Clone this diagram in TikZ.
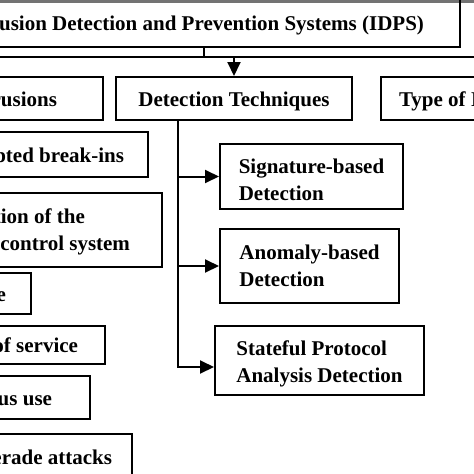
\documentclass[tikz,border=0pt]{standalone}
\usepackage{fontspec}
\setmainfont{Liberation Serif}
\usetikzlibrary{arrows.meta}
\begin{document}
\begin{tikzpicture}[x=1pt,y=-1pt,
  box/.style={draw, line width=2pt, font=\fontsize{21}{27}\selectfont\bfseries, align=left, inner ysep=0pt},
  one/.style={box, text height=17pt, text depth=2pt},
  two/.style={box, text height=#1, text depth=0pt},
  conn/.style={line width=2pt, line cap=rect},
  arr/.style={line width=2pt, -{Triangle[length=14pt,width=13pt]}}]
\useasboundingbox (0,0) rectangle (474,474);
\clip (0,0) rectangle (474,474);
\fill[black!55] (0,0) rectangle (474,3);
% top
\node[one, anchor=east, inner xsep=36pt, minimum height=48pt] (idps) at (461,23) {Intrusion Detection and Prevention Systems (IDPS)};
\node[one, anchor=east, inner xsep=46pt, minimum height=43pt] (ti) at (104,98.5) {Types of Intrusions};
\node[one, minimum width=236pt, minimum height=43pt] (dt) at (234,98.5) {Detection Techniques};
\node[one, anchor=west, inner xsep=18pt, minimum height=43pt] (tp) at (380,98.5) {Type of IDPS};
% right column
\node[two=47pt, minimum width=183pt, minimum height=65pt] (sig) at (311.5,176.5) {Signature-based\\Detection};
\node[two=41.4pt, minimum width=179pt, minimum height=74pt] (ano) at (309.5,266) {Anomaly-based\\Detection};
\node[two=43.6pt, minimum width=209pt, minimum height=69pt] (sp) at (319.5,360.5) {Stateful Protocol\\Analysis Detection};
% left column
\node[one, anchor=east, inner xsep=24pt, minimum height=45pt] (ab) at (149,154.5) {Attempted break-ins};
\node[two=40pt, anchor=east, inner xsep=32pt, minimum height=74pt] (pen) at (163,230) {Penetration of the\\security control system};
\node[one, anchor=east, inner xsep=25pt, minimum height=41pt] (lk) at (32,293.5) {Leakage};
\node[one, anchor=east, inner xsep=27pt, minimum height=38pt] (dos) at (106,345) {Denial of service};
\node[one, anchor=east, inner xsep=38pt, minimum height=43pt] (mu) at (91,397.5) {Malicious use};
\node[one, anchor=east, inner xsep=20pt, minimum height=46pt] (ma) at (133,457) {Masquerade attacks};
% connectors
\coordinate (j) at (204,57);
\coordinate (hl) at (-20,57);
\coordinate (hr) at (494,57);
\draw[conn] (j |- idps.south) -- (j);
\draw[conn] (hl) -- (hr);
\draw[arr] (dt.north |- j) -- (dt.north);
\coordinate (v) at (178,367);
\draw[conn] (v |- dt.south) -- (v);
\draw[arr] (v |- sig.west) -- (sig.west);
\draw[arr] (v |- ano.west) -- (ano.west);
\draw[arr] (v) -- (v -| sp.west);
\end{tikzpicture}
\end{document}
